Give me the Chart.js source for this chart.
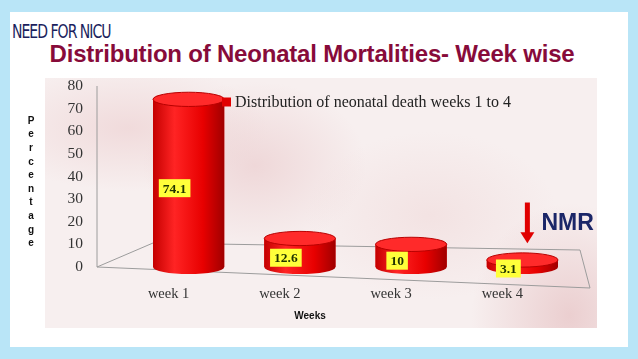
<!DOCTYPE html>
<html>
<head>
<meta charset="utf-8">
<script src="https://cdn.jsdelivr.net/npm/chart.js@4"></script>
<style>
  html, body { margin: 0; padding: 0; }
  body { width: 638px; height: 359px; background: #b9e5f7; position: relative; overflow: hidden; }
  #panel { position: absolute; left: 10px; top: 12px; width: 618px; height: 335px; background: #fff; }
  #photo {
    position: absolute; left: 45px; top: 78px; width: 552px; height: 250px;
    background:
      radial-gradient(ellipse 160px 120px at 38% 35%, rgba(232,196,198,0.55), rgba(232,196,198,0) 70%),
      radial-gradient(ellipse 200px 90px at 15% 20%, rgba(236,205,206,0.6), rgba(236,205,206,0) 70%),
      radial-gradient(ellipse 140px 160px at 95% 95%, rgba(225,180,182,0.55), rgba(225,180,182,0) 70%),
      radial-gradient(ellipse 180px 120px at 70% 55%, rgba(240,218,218,0.6), rgba(240,218,218,0) 70%),
      #f7efef;
  }
  #kicker { position: absolute; left: 12px; top: 20px; font: 19px "Liberation Sans Narrow", "DejaVu Sans Condensed", sans-serif; color: #1b1f5e; letter-spacing: -1.2px; transform: scaleX(0.82); transform-origin: left; white-space: nowrap; }
  #title { position: absolute; left: 0; width: 624px; top: 40px; text-align: center; font: bold 24px "Liberation Sans", Arial, sans-serif; color: #870b3a; letter-spacing: -0.2px; }
  canvas { position: absolute; left: 0; top: 0; }
</style>
</head>
<body>
<div id="panel"></div>
<div id="photo"></div>
<div id="kicker">NEED FOR NICU</div>
<div id="title">Distribution of Neonatal Mortalities- Week wise</div>
<canvas id="chart" width="638" height="359"></canvas>
<script>
const weeks = ["week 1", "week 2", "week 3", "week 4"];
const deathShare = [74.1, 12.6, 10, 3.1];
const seriesName = "Distribution of neonatal death weeks 1 to 4";
const yTitle = "Percentage";
const xTitle = "Weeks";

// 3D-ish floor and left wall lines
const floorPlugin = {
  id: "floor",
  beforeDatasetsDraw(chart) {
    const { ctx, chartArea: a, scales: { y } } = chart;
    const z = y.getPixelForValue(0);
    const x0 = a.left - 36;
    ctx.save();
    ctx.strokeStyle = "#9c9c9c";
    ctx.lineWidth = 1;
    ctx.beginPath();
    ctx.moveTo(x0, a.top);
    ctx.lineTo(x0, z);
    ctx.lineTo(x0 + 56, z - 24);
    ctx.lineTo(a.right + 2, z - 17);
    ctx.lineTo(a.right + 12, z + 21);
    ctx.lineTo(x0, z);
    ctx.stroke();
    ctx.restore();
  }
};

// turn each bar into a cylinder, add value boxes, legend, axis titles and the NMR arrow
const cylinderPlugin = {
  id: "cylinder",
  afterDatasetsDraw(chart) {
    const { ctx, chartArea: a } = chart;
    const ds = chart.data.datasets[0];
    const bars = chart.getDatasetMeta(0).data;
    ctx.save();
    bars.forEach((bar, i) => {
      const { x, y, base, width } = bar.getProps(["x", "y", "base", "width"], true);
      const l = x - width / 2, r = x + width / 2, ry = width * 0.1;
      const g = ctx.createLinearGradient(l, 0, r, 0);
      g.addColorStop(0, "#c40000");
      g.addColorStop(0.3, "#ff2424");
      g.addColorStop(0.7, "#e80000");
      g.addColorStop(1, "#a00000");
      ctx.fillStyle = g;
      ctx.fillRect(l, y, width, base - y);
      ctx.beginPath();
      ctx.ellipse(x, base, width / 2, ry, 0, 0, Math.PI);
      ctx.fill();
      ctx.beginPath();
      ctx.ellipse(x, y, width / 2, ry, 0, 0, Math.PI * 2);
      ctx.fillStyle = "#ff2a2a";
      ctx.fill();
      ctx.strokeStyle = "#b80000";
      ctx.lineWidth = 1;
      ctx.stroke();

      // value label
      const txt = String(ds.data[i]);
      ctx.font = "bold 13.5px 'Liberation Serif', serif";
      const tw = ctx.measureText(txt).width;
      const cx = x - 14, cy = (y + base) / 2 + 5;
      ctx.fillStyle = "#ffff3a";
      ctx.fillRect(cx - tw / 2 - 4, cy - 9, tw + 8, 18);
      ctx.fillStyle = "#1f3300";
      ctx.textAlign = "center";
      ctx.textBaseline = "middle";
      ctx.fillText(txt, cx, cy + 1);
    });

    // legend
    const lx = a.left + 89, ly = a.top + 16;
    ctx.fillStyle = ds.backgroundColor;
    ctx.fillRect(lx, ly - 4.5, 9, 9);
    ctx.fillStyle = "#222";
    ctx.font = "16px 'Liberation Serif', serif";
    ctx.textAlign = "left";
    ctx.textBaseline = "middle";
    ctx.fillText(ds.label, lx + 13, ly + 1);

    // NMR arrow at the last week
    const last = bars[bars.length - 1];
    const ax = last.x + 5;
    const top = chart.scales.y.getPixelForValue(28.5);
    const tip = chart.scales.y.getPixelForValue(10.5);
    ctx.fillStyle = "#e00000";
    ctx.fillRect(ax - 2.5, top, 5, tip - top - 10);
    ctx.beginPath();
    ctx.moveTo(ax - 7, tip - 11);
    ctx.lineTo(ax + 7, tip - 11);
    ctx.lineTo(ax, tip);
    ctx.closePath();
    ctx.fill();
    ctx.fillStyle = "#1b2668";
    ctx.font = "bold 23px 'Liberation Sans', Arial, sans-serif";
    ctx.fillText("NMR", ax + 14, (top + tip) / 2 + 1);

    // axis titles
    ctx.fillStyle = "#111";
    ctx.font = "bold 10px 'Liberation Sans', Arial, sans-serif";
    ctx.textAlign = "center";
    [...yTitle].forEach((ch, k) => ctx.fillText(ch, 31, 121 + k * 13.6));
    ctx.fillText(xTitle, 310, 316);
    ctx.restore();
  }
};

new Chart(document.getElementById("chart"), {
  type: "bar",
  data: {
    labels: weeks,
    datasets: [{
      label: seriesName,
      data: deathShare,
      backgroundColor: "#e10000",
      borderWidth: 0,
      barPercentage: 0.64,
      categoryPercentage: 1
    }]
  },
  options: {
    responsive: false,
    animation: false,
    layout: { padding: { top: 86, left: 0, right: 60, bottom: 52 } },
    plugins: {
      legend: { display: false },
      tooltip: { enabled: false }
    },
    scales: {
      x: {
        grid: { display: false, drawTicks: false },
        border: { display: false },
        ticks: {
          padding: 18,
          labelOffset: -20,
          color: "#333",
          font: { family: "'Liberation Serif', serif", size: 14.5 }
        },
        afterFit(s) { s.height = 40; }
      },
      y: {
        min: 0,
        max: 80,
        grid: { display: false, drawTicks: false },
        border: { display: false },
        ticks: {
          stepSize: 10,
          padding: 50,
          color: "#333",
          font: { family: "'Liberation Serif', serif", size: 15.5 }
        },
        afterFit(s) { s.width = 133; }
      }
    }
  },
  plugins: [floorPlugin, cylinderPlugin]
});
</script>
</body>
</html>
